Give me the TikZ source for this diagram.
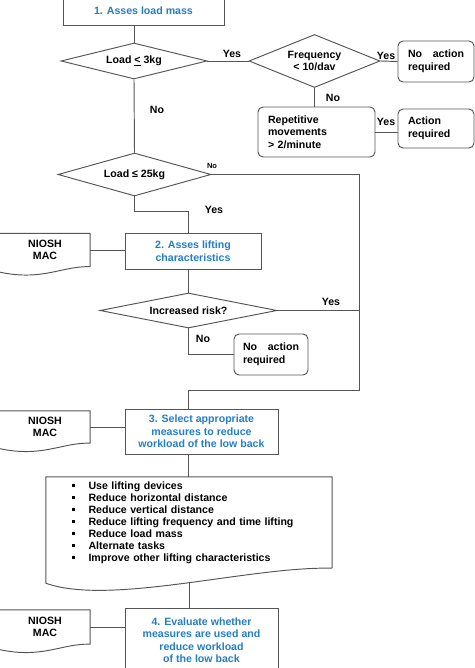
\documentclass[tikz,border=0pt]{standalone}
\usepackage{fontspec}
\setmainfont{Liberation Sans}
\usetikzlibrary{calc}
\usetikzlibrary{positioning}
\usetikzlibrary{shapes.geometric}

\definecolor{stepblue}{RGB}{35,125,200}
\definecolor{flowgray}{RGB}{85,85,85}

\newcommand{\measureitem}[1]{\makebox[17pt][l]{\rule[2.5pt]{3pt}{3pt}}#1}

\tikzset{
    flow/.style={draw=flowgray, line width=0.95pt},
    stepbox/.style={flow, rectangle, text=stepblue, align=center, inner sep=0pt},
    choice/.style={flow, diamond, inner sep=0pt, align=center},
    outcome/.style={flow, rectangle, rounded corners=5pt, align=left, inner ysep=0pt, inner xsep=10pt},
    docshape/.style={rectangle, inner sep=0pt, align=center},
    lbl/.style={inner sep=0pt},
}

\begin{document}
\begin{tikzpicture}[x=1pt, y=-1pt, font=\bfseries\fontsize{10.6}{12.5}\selectfont]
    \useasboundingbox (0,0) rectangle (474,668);

    % steps and decisions
    \node[stepbox, minimum width=161pt, minimum height=28pt] (s1) at (143.5,11) {1. Asses load mass};
    \node[choice, aspect=4, minimum width=146pt, minimum height=36pt] (d1) at (134,61) {Load \underline{<} 3kg};
    \node[choice, aspect=2.5, minimum width=131pt, minimum height=53pt] (d2) at (314.5,61) {Frequency\\< 10/dav};
    \node[outcome, text width=56pt, align=justify, minimum height=41pt] (na1) at (436,61.5) {No action required};
    \node[outcome, text width=97pt, minimum height=50pt] (rep) at (316.5,132) {Repetitive\\movements\\> 2/minute};
    \node[outcome, text width=56pt, minimum height=39pt] (act) at (436,128.5) {Action\\required};
    \node[choice, aspect=3.5, minimum width=153pt, minimum height=43pt] (d3) at (134.5,174.5) {Load ≤ 25kg};
    \node[stepbox, minimum width=136pt, minimum height=36pt] (s2) at (193,251) {2. Asses lifting\\characteristics};
    \node[choice, aspect=5, minimum width=177pt, minimum height=35pt] (d4) at (188.5,310.5) {Increased risk?};
    \node[outcome, text width=56pt, inner xsep=9pt, align=justify, minimum height=41pt] (na2) at (271,354.5) {No action required};
    \node[stepbox, minimum width=153pt, minimum height=45pt] (s3) at (201.5,431.5) {3. Select appropriate\\measures to reduce\\workload of the low back};
    \node[docshape, minimum width=286pt, minimum height=92pt, text width=235pt, inner xsep=25.5pt, align=left,
          font=\bfseries\fontsize{10.6}{12}\selectfont] (list) at (189,523) {%
        \measureitem{Use lifting devices}\\
        \measureitem{Reduce horizontal distance}\\
        \measureitem{Reduce vertical distance}\\
        \measureitem{Reduce lifting frequency and time lifting}\\
        \measureitem{Reduce load mass}\\
        \measureitem{Alternate tasks}\\
        \measureitem{Improve other lifting characteristics}};
    \node[stepbox, minimum width=153pt, minimum height=64pt] (s4) at (201.5,640) {4. Evaluate whether\\measures are used and\\reduce workload\\of the low back};

    % NIOSH references
    \node[docshape, minimum width=90pt, minimum height=33pt] (mac1) at (45,250) {NIOSH\\MAC};
    \node[docshape, minimum width=90pt, minimum height=32pt] (mac2) at (45,427) {NIOSH\\MAC};
    \node[docshape, minimum width=90pt, minimum height=34pt] (mac3) at (45,627) {NIOSH\\MAC};
    \foreach \m in {mac1,mac2,mac3}
        \draw[flow] ($(\m.north west)+(-15,0)$) -- (\m.north east) -- (\m.south east)
            .. controls +(-30,-1) and +(50,14) .. ($(\m.south west)+(-10,3)$);
    \draw[flow] ($(list.south east)+(0,-1)$) -- (list.north east) -- (list.north west)
        -- ($(list.south west)+(0,14)$) .. controls +(64,23) and +(-82,-2) .. ($(list.south east)+(0,-1)$);

    \coordinate (loop) at (359,390);
    \coordinate (listfoot) at ($(list.south)+(0,13)$);

    % labels
    \node[lbl] (yes1) at (232,54) {Yes};
    \node[lbl] (yes2) at (386,56) {Yes};
    \node[lbl] (no1) at (333,98) {No};
    \node[lbl] (yes3) at (386,122) {Yes};
    \node[lbl] (no2) at (157,110) {No};
    \node[lbl, font=\bfseries\fontsize{7.5}{9}\selectfont] (no3) at (212,166) {No};
    \node[lbl] (yes4) at (214,210) {Yes};
    \node[lbl] (yes5) at (331,302) {Yes};
    \node[lbl] (no4) at (203,339) {No};

    % connectors
    \draw[flow] (s1.south -| d1.north) -- (d1.north);
    \draw[flow] (d1.east) -- (d2.west);
    \draw[flow] (d2.east) -- (na1.west);
    \draw[flow] (d2.south) -- (rep.north -| d2.south);
    \draw[flow] (rep.east) -- (rep.east -| act.west);
    \draw[flow] (d1.south) -- (d3.north);
    \draw[flow] (d3.east) -| (loop) -| (s3.north -| d4.north);
    \draw[flow] (d3.south) -- ++(0,15) -| (s2.north -| d4.north);
    \draw[flow] (mac1.east) -- (mac1.east -| s2.west);
    \draw[flow] (s2.south -| d4.north) -- (d4.north);
    \draw[flow] (d4.east) -- (d4.east -| loop);
    \draw[flow] (d4.south) |- (na2.west);
    \draw[flow] (mac2.east) -- (mac2.east -| s3.west);
    \draw[flow] (s3.south -| d4.south) -- (list.north -| d4.south);
    \draw[flow] (listfoot) -- (s4.north -| listfoot);
    \draw[flow] (mac3.east) -- (mac3.east -| s4.west);
\end{tikzpicture}
\end{document}
